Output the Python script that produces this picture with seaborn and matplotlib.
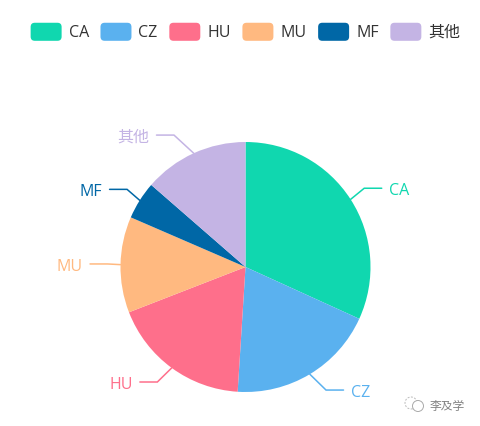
import numpy as np
import matplotlib.pyplot as plt
import seaborn as sns
from matplotlib.legend_handler import HandlerPatch
from matplotlib.patches import Circle, FancyBboxPatch, Patch

categories = ["CA", "CZ", "HU", "MU", "MF", "其他"]
values = [31.8, 19.2, 18.1, 12.4, 4.9, 13.6]
colors = ["#10d7af", "#5ab1ef", "#fe6f8b", "#ffb980", "#0067a6", "#c4b4e4"]
watermark = "李及学"

sns.set_theme(style="white")
plt.rcParams["font.family"] = ["Open Sans", "Noto Sans CJK SC", "DejaVu Sans"]

W, H = 481, 427
R = 125  # pie radius in px
CX, CY = 245.5, 268

# nudges (px) for the leader elbows, the labels got pushed apart a little
elbow_dx = [1, 8.5, -5.5, 2, 0, -13.5]
elbow_dy = [3, -3, -2, 0.4, 3, 4.5]

fig = plt.figure(figsize=(W / 100, H / 100), dpi=100)
ax = fig.add_axes([0, 0, 1, 1])

wedges, _ = ax.pie(values, colors=sns.color_palette(colors), startangle=90,
                   counterclock=False, radius=1, center=(0, 0),
                   wedgeprops={"linewidth": 0})
ax.set_xlim(-CX / R, (W - CX) / R)
ax.set_ylim(-(H - CY) / R, CY / R)
ax.set_aspect("equal")
ax.axis("off")

# leader lines and outside labels
for w, name, col, dx, dy in zip(wedges, categories, colors, elbow_dx, elbow_dy):
    ang = np.deg2rad((w.theta1 + w.theta2) / 2)
    x0, y0 = np.cos(ang), np.sin(ang)
    x1, y1 = 1.12 * x0 + dx / R, 1.12 * y0 + dy / R
    side = 1 if x0 > 0 else -1
    x2 = x1 + side * 17.5 / R
    ax.plot([x0, x1, x2], [y0, y1, y1], color=col, lw=1.1, solid_joinstyle="miter")
    ax.text(x2 + side * 7 / R, y1, name, color=col, fontsize=11.5,
            ha="left" if side > 0 else "right", va="center_baseline")


class RoundHandler(HandlerPatch):
    def create_artists(self, legend, orig, xd, yd, width, height, fontsize, trans):
        # swatch sits a bit lower than the text, so drop it by 2pt
        box = FancyBboxPatch((-xd + 3, -yd + 1), width - 6, height + yd - 6,
                             boxstyle="round,pad=3,rounding_size=3",
                             facecolor=orig.get_facecolor(), edgecolor="none",
                             transform=trans)
        return [box]


handles = [Patch(facecolor=c, label=n) for c, n in zip(colors, categories)]
fig.legend(handles=handles, ncol=6, frameon=False, fontsize=11.5, labelcolor="#333333",
           handler_map={Patch: RoundHandler()},
           handlelength=1.94, handleheight=1.13, handletextpad=0.44,
           columnspacing=0.725, borderpad=0, borderaxespad=0,
           loc="center", bbox_to_anchor=(245.5 / W, 1 - 32 / H))

# faint watermark bottom right
wy = (CY - 405) / R
ax.add_patch(Circle(((411 - CX) / R, (CY - 404) / R), 6 / R, fill=False, ec="#bbbbbb", lw=0.7, ls=(0, (2, 1.5))))
ax.add_patch(Circle(((418 - CX) / R, (CY - 407) / R), 5.5 / R, fc="white", ec="#aaaaaa", lw=0.7))
ax.text((430 - CX) / R, wy, watermark, color="#808080", fontsize=8.5, style="italic",
        ha="left", va="center_baseline")

fig.savefig("out.png", dpi=100, facecolor="white")
